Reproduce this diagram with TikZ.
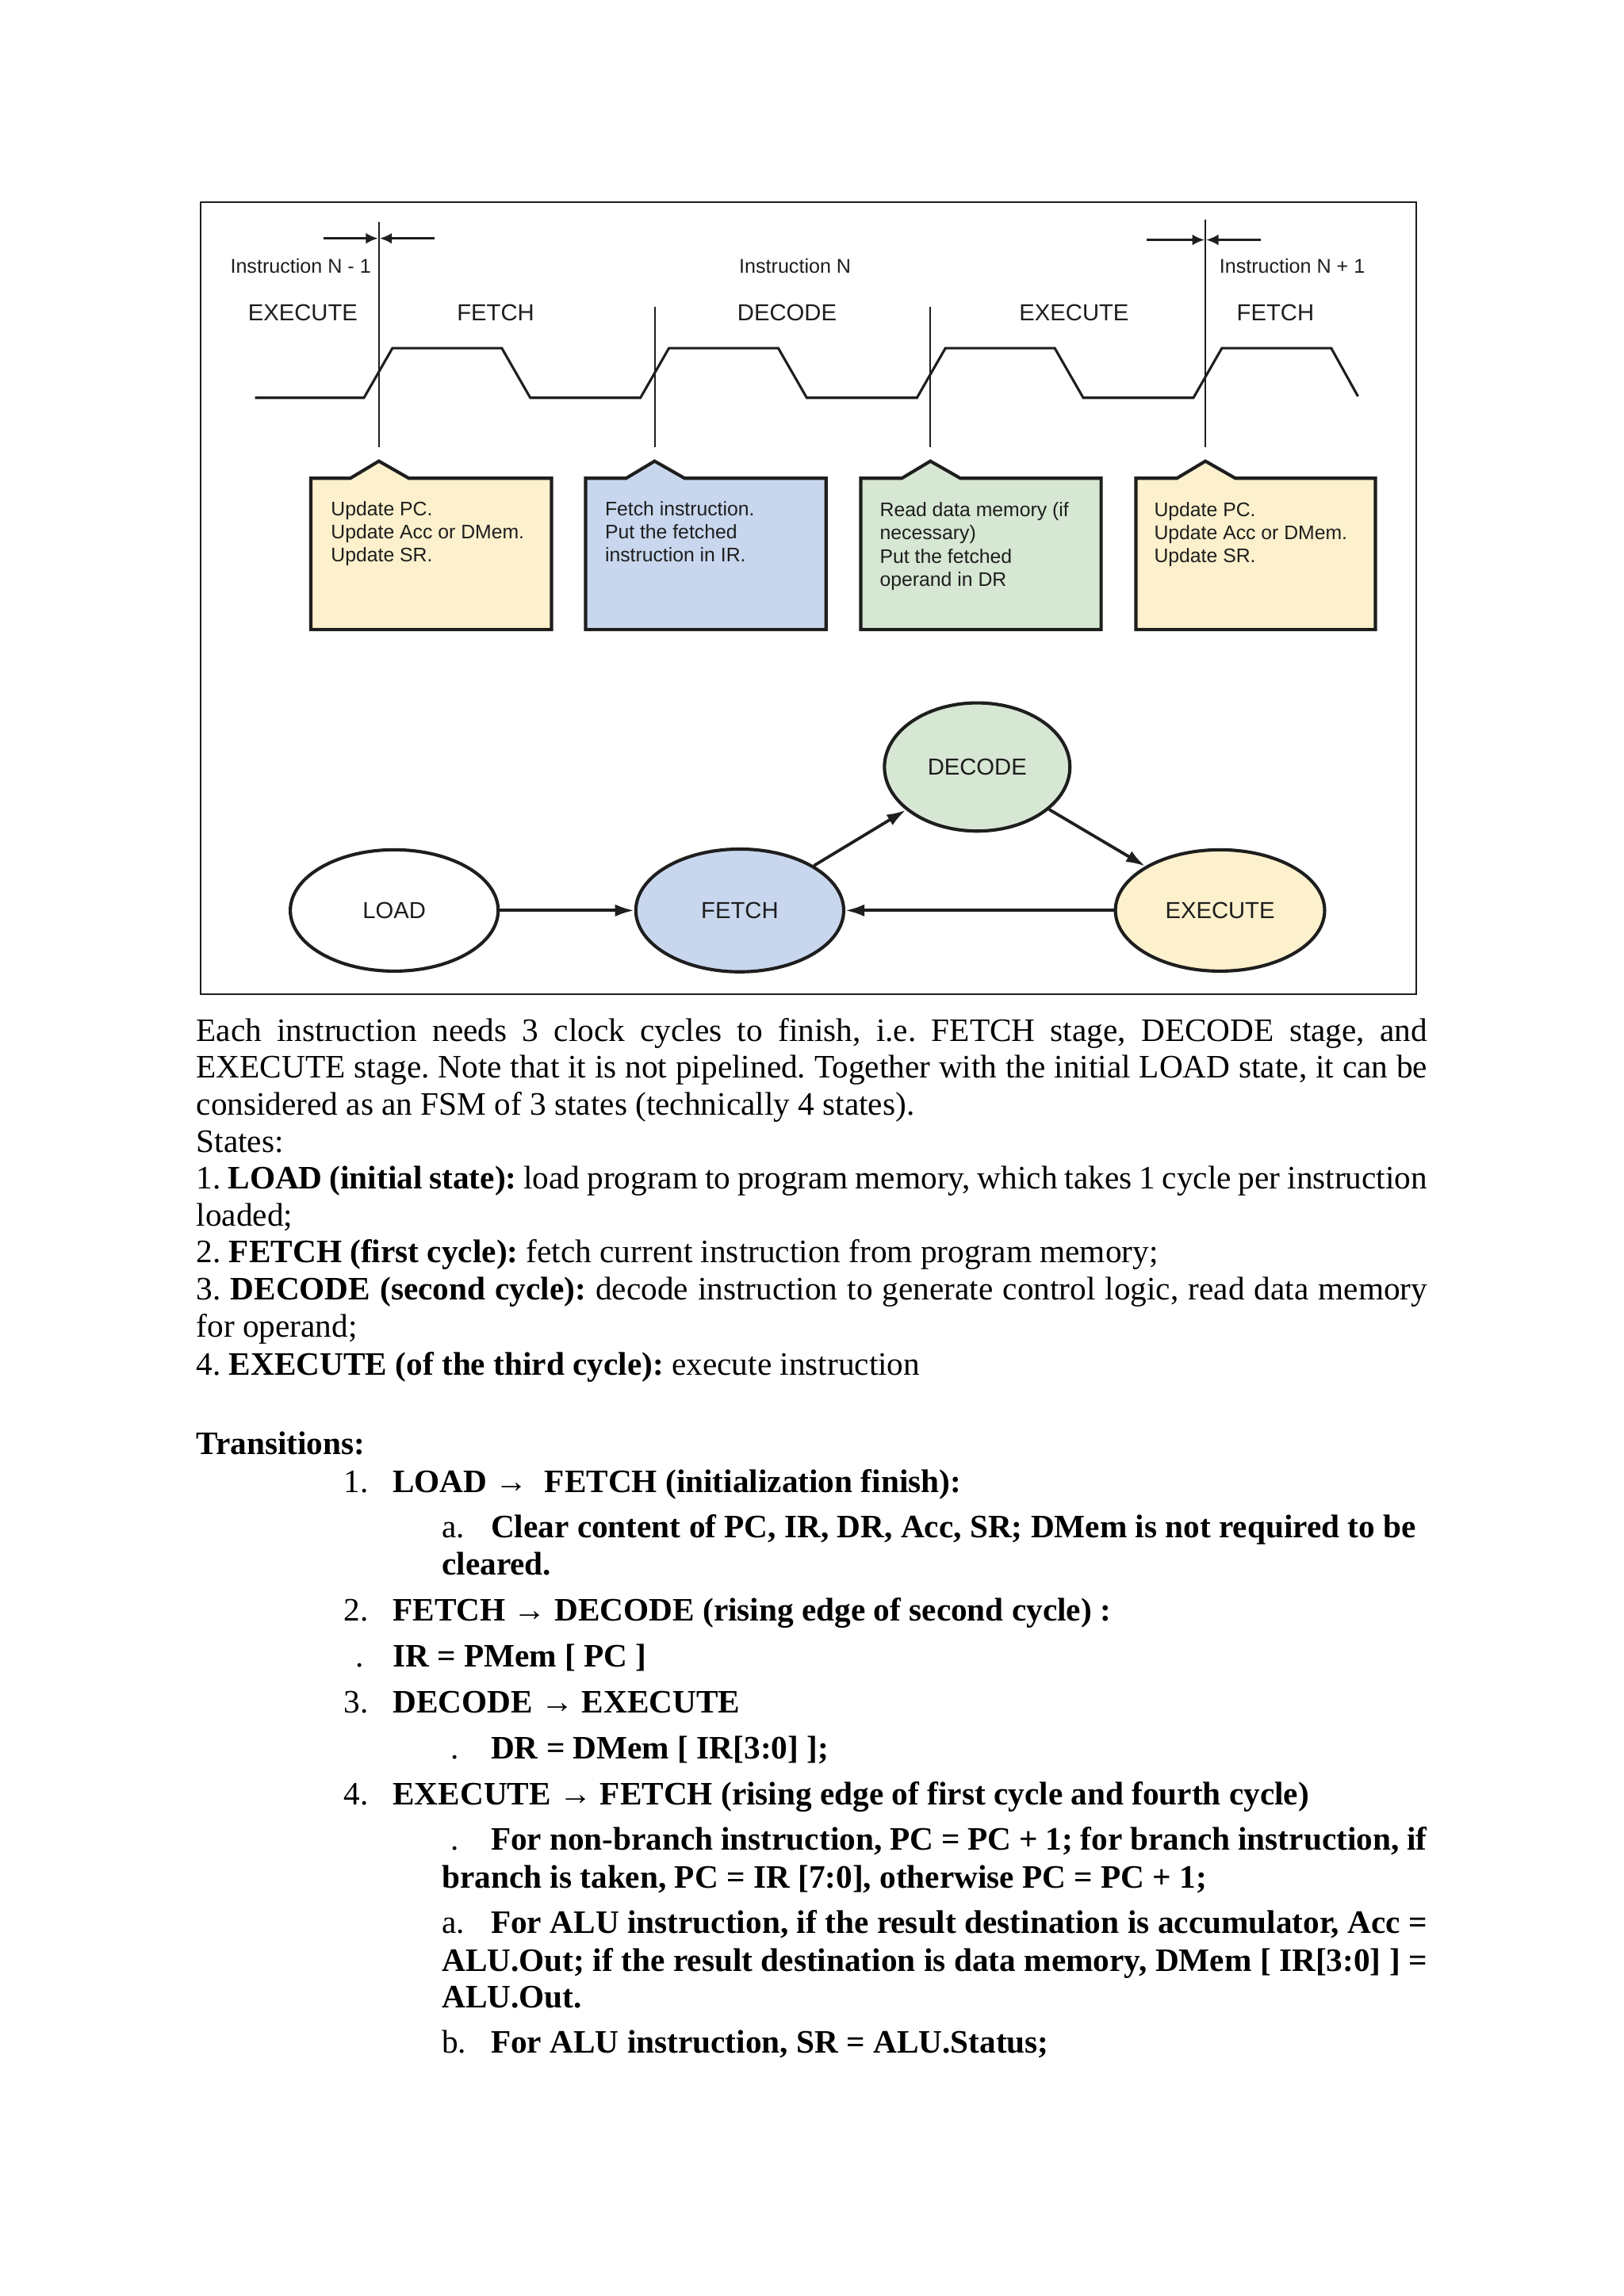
\documentclass[tikz,border=0pt]{standalone}
\usepackage{fontspec}
\setmainfont{Liberation Serif}
\newfontfamily\diagfont{Liberation Sans}
\usetikzlibrary{arrows.meta,shapes.geometric}
\definecolor{cyellow}{HTML}{FCF1CC}
\definecolor{cblue}{HTML}{C8D7EE}
\definecolor{cgreen}{HTML}{D6E7D3}
\definecolor{ink}{HTML}{1E1E1E}
\newcommand\justline[2]{\hbox to #1{#2}}
\frenchspacing
\begin{document}
\begin{tikzpicture}[x=0.53629pt,y=-0.53629pt,
  body/.style={inner sep=0pt,outer sep=0pt,anchor=base west,font=\fontsize{12}{13.8}\selectfont},
  lblsmall/.style={inner sep=0pt,outer sep=0pt,text=ink,font=\diagfont\fontsize{7.3}{8.5}\selectfont},
  lblbig/.style={inner sep=0pt,outer sep=0pt,text=ink,anchor=base,font=\diagfont\fontsize{8.5}{10}\selectfont},
  boxtxt/.style={inner sep=0pt,outer sep=0pt,anchor=base west,text=ink,font=\diagfont\fontsize{7.2}{8.4}\selectfont},
  callout/.style={draw=ink,line width=1.2pt,line join=miter},
  vline/.style={draw=ink,line width=0.6pt},
  wave/.style={draw=ink,line width=0.9pt,line join=miter},
  tarrow/.style={draw=ink,line width=0.9pt,-{Latex[length=4.5pt,width=4pt]}},
  state/.style={ellipse,draw=ink,line width=1.2pt,inner sep=0pt,text=ink,font=\diagfont\fontsize{8.5}{10}\selectfont},
  farrow/.style={draw=ink,line width=1.1pt,-{Latex[length=7pt,width=4.5pt]}}
]
\fill[white] (0,0) rectangle (1110,1569.85);
\useasboundingbox (0,0) rectangle (1110,1569.85);

% frame
\draw[ink,line width=0.6pt] (137,138) rectangle (968,680);

% timing labels
\node[lblsmall,anchor=base west] (insA) at (157.5,187) {Instruction N - 1};
\node[lblsmall,anchor=base] (insB) at (543.5,187) {Instruction N};
\node[lblsmall,anchor=base west] (insC) at (833.6,187) {Instruction N + 1};
\node[lblbig] (stA) at (207,219.5) {EXECUTE};
\node[lblbig] (stB) at (338.8,219.5) {FETCH};
\node[lblbig] (stC) at (538,219.5) {DECODE};
\node[lblbig] (stD) at (734.2,219.5) {EXECUTE};
\node[lblbig] (stE) at (871.9,219.5) {FETCH};

% vertical marker lines
\draw[vline] (259,151.8) -- (259,306);
\draw[vline] (447.5,209.6) -- (447.5,306);
\draw[vline] (636,210) -- (636,306);
\draw[vline] (824,150) -- (824,306);
\draw[tarrow] (221,163) -- (258.5,163);
\draw[tarrow] (297,163) -- (259.5,163);
\draw[tarrow] (784,164) -- (823.5,164);
\draw[tarrow] (862,164) -- (824.5,164);

% clock waveform
\draw[wave] (174.3,272) -- (248.8,272) -- (268.3,238) -- (343,238) -- (362.5,272)
  -- (437.8,272) -- (457.3,238) -- (532,238) -- (551.5,272)
  -- (626.8,272) -- (646.3,238) -- (721,238) -- (740.5,272)
  -- (815.8,272) -- (835.3,238) -- (910,238) -- (928.3,271);

% callout boxes
\draw[callout,fill=cyellow] (212.5,327) -- (239.5,327) -- (259,315.3) -- (279.5,327) -- (377,327) -- (377,430.5) -- (212.5,430.5) -- cycle;
\draw[callout,fill=cblue] (400.3,327) -- (428,327) -- (447.5,315.3) -- (468,327) -- (564.7,327) -- (564.7,430.5) -- (400.3,430.5) -- cycle;
\draw[callout,fill=cgreen] (588.4,327) -- (616.5,327) -- (636,315.3) -- (656.5,327) -- (752.7,327) -- (752.7,430.5) -- (588.4,430.5) -- cycle;
\draw[callout,fill=cyellow] (776.5,327) -- (804.5,327) -- (824,315.3) -- (844.5,327) -- (940.2,327) -- (940.2,430.5) -- (776.5,430.5) -- cycle;

\node[boxtxt] (b1a) at (226.3,352.5) {Update PC.};
\node[boxtxt] (b1b) at (226.3,368.2) {Update Acc or DMem.};
\node[boxtxt] (b1c) at (226.3,383.9) {Update SR.};
\node[boxtxt] (b2a) at (413.6,352.5) {Fetch instruction.};
\node[boxtxt] (b2b) at (413.6,368.2) {Put the fetched};
\node[boxtxt] (b2c) at (413.6,383.9) {instruction in IR.};
\node[boxtxt] (b3a) at (601.5,353) {Read data memory (if};
\node[boxtxt] (b3b) at (601.5,369) {necessary)};
\node[boxtxt] (b3c) at (601.5,385) {Put the fetched};
\node[boxtxt] (b3d) at (601.5,401) {operand in DR};
\node[boxtxt] (b4a) at (789,353) {Update PC.};
\node[boxtxt] (b4b) at (789,368.8) {Update Acc or DMem.};
\node[boxtxt] (b4c) at (789,384.6) {Update SR.};

% FSM
\node[state,fill=white,minimum width=76.2pt,minimum height=44.5pt] (load) at (269.5,622.5) {LOAD};
\node[state,fill=cblue,minimum width=76.2pt,minimum height=45pt] (fetch) at (505.7,622.5) {FETCH};
\node[state,fill=cgreen,minimum width=68pt,minimum height=47pt] (decode) at (668,524.4) {DECODE};
\node[state,fill=cyellow,minimum width=76.7pt,minimum height=44.5pt] (execute) at (834,622.5) {EXECUTE};
\draw[farrow] (load) -- (fetch);
\draw[farrow] (execute) -- (fetch);
\draw[farrow] (fetch) -- (decode);
\draw[farrow] (decode) -- (execute);

% body text
\node[body] (p1) at (134.26,711.8) {\justline{451.28pt}{Each instruction needs 3 clock cycles to finish, i.e. FETCH stage, DECODE stage, and}};
\node[body] (p2) at (134.26,737) {\justline{451.28pt}{EXECUTE stage. Note that it is not pipelined. Together with the initial LOAD state, it can be}};
\node[body] (p3) at (134.26,762.4) {considered as an FSM of 3 states (technically 4 states).};
\node[body] (p4) at (134.26,787.7) {States:};
\node[body] (p5) at (134.26,813) {\justline{451.28pt}{1. \textbf{LOAD (initial state):} load program to program memory, which takes 1 cycle per instruction}};
\node[body] (p6) at (134.26,838.2) {loaded;};
\node[body] (p7) at (134.26,863.5) {2. \textbf{FETCH (first cycle):} fetch current instruction from program memory;};
\node[body] (p8) at (134.26,888.9) {\justline{451.28pt}{3. \textbf{DECODE (second cycle):} decode instruction to generate control logic, read data memory}};
\node[body] (p9) at (134.26,914.2) {for operand;};
\node[body] (p10) at (134.26,940.4) {4. \textbf{EXECUTE (of the third cycle):} execute instruction};

\node[body] (tr) at (134.26,994.4) {\textbf{Transitions:}};
\node[body] (n1) at (234.95,1020.3) {1.};
\node[body] (t1) at (268.5,1020.3) {\textbf{LOAD →\ \ FETCH (initialization finish):}};
\node[body] (n1a) at (302.1,1051.4) {a.};
\node[body] (t1a) at (335.6,1051.4) {\textbf{Clear content of PC, IR, DR, Acc, SR; DMem is not required to be}};
\node[body] (t1b) at (302.1,1076.7) {\textbf{cleared.}};
\node[body] (n2) at (234.95,1108.5) {2.};
\node[body] (t2) at (268.5,1108.5) {\textbf{FETCH → DECODE (rising edge of second cycle) :}};
\node[body] (n2a) at (243,1139.6) {.};
\node[body] (t2a) at (268.5,1139.6) {\textbf{IR = PMem [ PC ]}};
\node[body] (n3) at (234.95,1171.3) {3.};
\node[body] (t3) at (268.5,1171.3) {\textbf{DECODE → EXECUTE}};
\node[body] (n3a) at (308,1202.8) {.};
\node[body] (t3a) at (335.6,1202.8) {\textbf{DR = DMem [ IR[3:0] ];}};
\node[body] (n4) at (234.95,1233.9) {4.};
\node[body] (t4) at (268.5,1233.9) {\textbf{EXECUTE → FETCH (rising edge of first cycle and fourth cycle)}};
\node[body] (n4a) at (308,1265) {.};
\node[body] (t4a) at (335.6,1265) {\justline{343.28pt}{\textbf{For non-branch instruction, PC = PC + 1; for branch instruction, if}}};
\node[body] (t4b) at (302.1,1290.9) {\textbf{branch is taken, PC = IR [7:0], otherwise PC = PC + 1;}};
\node[body] (n4c) at (302.1,1321.6) {a.};
\node[body] (t4c) at (335.6,1321.6) {\justline{343.28pt}{\textbf{For ALU instruction, if the result destination is accumulator, Acc =}}};
\node[body] (t4d) at (302.1,1347.8) {\justline{361.28pt}{\textbf{ALU.Out; if the result destination is data memory, DMem [ IR[3:0] ] =}}};
\node[body] (t4e) at (302.1,1373) {\textbf{ALU.Out.}};
\node[body] (n4f) at (302.1,1403.8) {b.};
\node[body] (t4f) at (335.6,1403.8) {\textbf{For ALU instruction, SR = ALU.Status;}};
\end{tikzpicture}
\end{document}
